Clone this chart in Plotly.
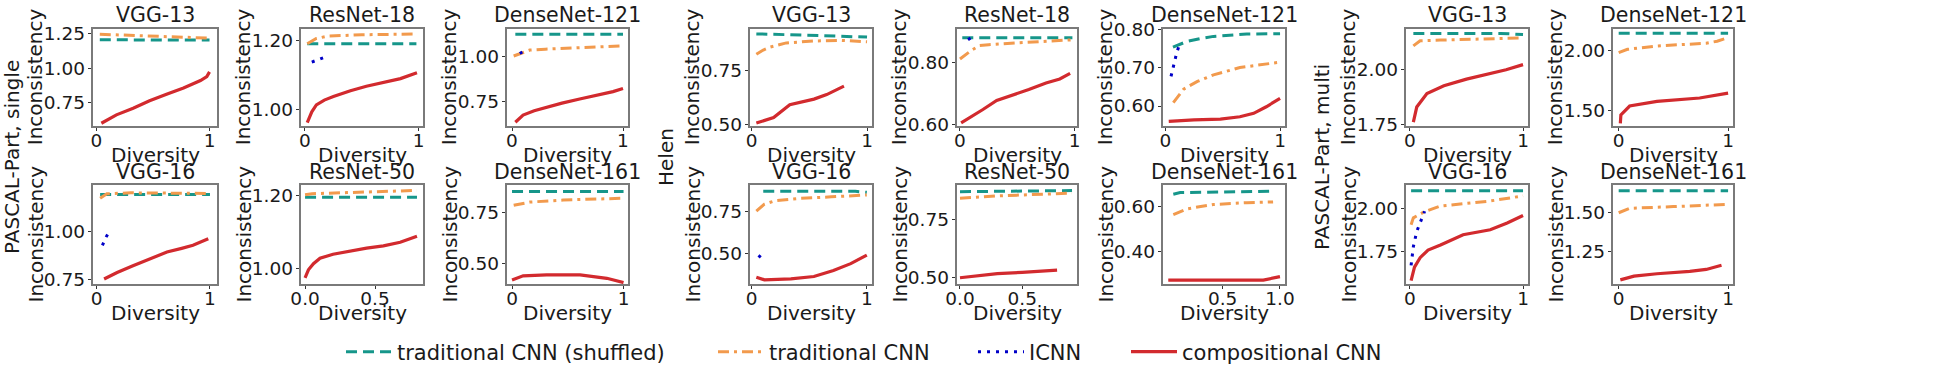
import plotly.graph_objects as go

# ---------------- data ----------------
TITLES = ["VGG-13", "ResNet-18", "DenseNet-121", "VGG-13", "ResNet-18", "DenseNet-121", "VGG-13", "DenseNet-121",
          "VGG-16", "ResNet-50", "DenseNet-161", "VGG-16", "ResNet-50", "DenseNet-161", "VGG-16", "DenseNet-161"]
GROUPS = ["PASCAL-Part, single", "Helen", "PASCAL-Part, multi"]
SERIES_NAMES = ["traditional CNN (shuffled)", "traditional CNN", "ICNN", "compositional CNN"]

# each panel: shuffled / traditional / icnn / compositional  -> (x list, y list)
p1 = dict(shuf=([0.03, 0.5, 1.0], [1.205, 1.205, 1.203]),
          trad=([0.03, 0.2, 0.5, 0.8, 1.0], [1.245, 1.24, 1.232, 1.225, 1.217]),
          comp=([0.044, 0.177, 0.325, 0.47, 0.62, 0.77, 0.92, 0.976, 1.0],
                [0.599, 0.66, 0.708, 0.762, 0.81, 0.855, 0.909, 0.938, 0.972]))
p2 = dict(shuf=([0.02, 0.98], [1.19, 1.19]),
          trad=([0.02, 0.06, 0.1, 0.2, 0.35, 0.5, 0.75, 0.98], [1.19, 1.198, 1.205, 1.212, 1.214, 1.216, 1.217, 1.218]),
          icnn=([0.06, 0.13, 0.2], [1.137, 1.145, 1.154]),
          comp=([0.02, 0.04, 0.06, 0.1, 0.17, 0.25, 0.4, 0.54, 0.69, 0.84, 0.985],
                [0.962, 0.98, 0.993, 1.013, 1.027, 1.037, 1.054, 1.067, 1.077, 1.089, 1.106]))
p3 = dict(shuf=([0.03, 1.0], [1.125, 1.125]),
          trad=([0.015, 0.08, 0.16, 0.3, 0.46, 0.7, 1.0], [1.004, 1.02, 1.037, 1.042, 1.046, 1.053, 1.061]),
          icnn=([0.07, 0.13], [1.018, 1.04]),
          comp=([0.03, 0.1, 0.2, 0.31, 0.45, 0.61, 0.75, 0.91, 1.0],
                [0.636, 0.676, 0.70, 0.719, 0.742, 0.765, 0.785, 0.806, 0.824]))
p4 = dict(shuf=([0.04, 0.3, 0.6, 1.0], [0.92, 0.917, 0.912, 0.905]),
          trad=([0.04, 0.1, 0.16, 0.3, 0.54, 0.77, 1.0], [0.825, 0.845, 0.859, 0.878, 0.887, 0.89, 0.883]),
          comp=([0.04, 0.19, 0.33, 0.54, 0.65, 0.8], [0.506, 0.531, 0.591, 0.617, 0.638, 0.677]))
p5 = dict(shuf=([0.02, 0.98], [0.878, 0.878]),
          trad=([0.0, 0.05, 0.1, 0.17, 0.25, 0.5, 0.75, 1.0], [0.81, 0.825, 0.838, 0.853, 0.856, 0.862, 0.867, 0.872]),
          icnn=([0.07, 0.13], [0.872, 0.886]),
          comp=([0.01, 0.1, 0.2, 0.32, 0.45, 0.6, 0.75, 0.87, 0.96],
                [0.605, 0.625, 0.648, 0.677, 0.692, 0.712, 0.733, 0.746, 0.764]))
p6 = dict(shuf=([0.067, 0.19, 0.3, 0.42, 0.71, 1.0], [0.753, 0.768, 0.775, 0.781, 0.787, 0.788]),
          trad=([0.07, 0.16, 0.28, 0.42, 0.65, 0.94, 1.0], [0.609, 0.644, 0.664, 0.681, 0.70, 0.713, 0.714]),
          icnn=([0.05, 0.067, 0.1, 0.13], [0.677, 0.70, 0.739, 0.765]),
          comp=([0.03, 0.25, 0.48, 0.65, 0.77, 0.88, 1.0], [0.56, 0.564, 0.566, 0.572, 0.581, 0.598, 0.62]))
p7 = dict(shuf=([0.03, 0.8, 1.0], [2.16, 2.16, 2.155]),
          trad=([0.03, 0.09, 0.27, 0.6, 1.0], [2.104, 2.127, 2.13, 2.135, 2.14]),
          comp=([0.03, 0.06, 0.15, 0.3, 0.5, 0.7, 0.85, 1.0], [1.762, 1.83, 1.89, 1.925, 1.955, 1.98, 1.997, 2.02]))
p8 = dict(shuf=([0.0, 1.0], [2.14, 2.14]),
          trad=([0.0, 0.08, 0.35, 0.8, 0.9, 1.0], [1.98, 2.008, 2.036, 2.058, 2.075, 2.106]),
          comp=([0.015, 0.02, 0.1, 0.35, 0.74, 1.0], [1.397, 1.467, 1.54, 1.578, 1.606, 1.647]))
p9 = dict(shuf=([0.03, 1.0], [1.192, 1.192]),
          trad=([0.03, 0.09, 0.3, 0.6, 1.0], [1.172, 1.195, 1.2, 1.2, 1.197]),
          icnn=([0.05, 0.08, 0.12], [0.926, 0.966, 1.009]),
          comp=([0.065, 0.18, 0.32, 0.47, 0.62, 0.75, 0.85, 0.985],
                [0.75, 0.784, 0.819, 0.857, 0.891, 0.91, 0.926, 0.96]))
p10 = dict(shuf=([0.0, 0.8], [1.195, 1.195]),
           trad=([0.0, 0.05, 0.3, 0.6, 0.8], [1.202, 1.205, 1.208, 1.211, 1.214]),
           comp=([0.0, 0.024, 0.06, 0.107, 0.2, 0.32, 0.44, 0.56, 0.68, 0.8],
                 [0.973, 0.995, 1.012, 1.027, 1.038, 1.047, 1.055, 1.061, 1.071, 1.088]))
p11 = dict(shuf=([0.0, 1.0], [0.855, 0.855]),
           trad=([0.015, 0.16, 0.46, 1.0], [0.787, 0.803, 0.813, 0.822]),
           comp=([0.0, 0.1, 0.31, 0.61, 0.85, 1.0], [0.42, 0.44, 0.445, 0.445, 0.428, 0.407]))
p12 = dict(shuf=([0.1, 0.9, 1.0], [0.872, 0.872, 0.866]),
           trad=([0.04, 0.11, 0.2, 0.4, 0.69, 1.0], [0.754, 0.795, 0.815, 0.829, 0.839, 0.85]),
           icnn=([0.06, 0.11], [0.476, 0.516]),
           comp=([0.04, 0.11, 0.34, 0.54, 0.71, 0.86, 1.0], [0.358, 0.342, 0.348, 0.362, 0.398, 0.439, 0.49]))
p13 = dict(shuf=([0.0, 0.9], [0.868, 0.873]),
           trad=([0.0, 0.3, 0.9], [0.84, 0.85, 0.862]),
           comp=([0.0, 0.1, 0.2, 0.3, 0.5, 0.78], [0.497, 0.503, 0.51, 0.515, 0.52, 0.53]))
p14 = dict(shuf=([0.07, 0.13, 0.94], [0.652, 0.659, 0.665]),
           trad=([0.07, 0.19, 0.42, 0.71, 0.94], [0.563, 0.588, 0.607, 0.615, 0.618]),
           comp=([0.026, 0.855, 1.0], [0.277, 0.277, 0.292]))
p15 = dict(shuf=([0.01, 1.0], [2.104, 2.104]),
           trad=([0.01, 0.03, 0.12, 0.27, 0.71, 1.0], [1.907, 1.947, 1.98, 2.016, 2.045, 2.075]),
           icnn=([0.01, 0.03, 0.06, 0.1, 0.13], [1.671, 1.78, 1.868, 1.937, 1.986]),
           comp=([0.01, 0.04, 0.09, 0.16, 0.27, 0.47, 0.71, 0.86, 1.0],
                 [1.582, 1.661, 1.716, 1.76, 1.79, 1.849, 1.878, 1.917, 1.961]))
p16 = dict(shuf=([0.0, 1.0], [1.644, 1.644]),
           trad=([0.0, 0.1, 0.5, 1.0], [1.50, 1.529, 1.54, 1.555]),
           comp=([0.015, 0.14, 0.35, 0.65, 0.8, 0.94], [1.062, 1.086, 1.102, 1.117, 1.13, 1.157]))
PANELS = [p1, p2, p3, p4, p5, p6, p7, p8, p9, p10, p11, p12, p13, p14, p15, p16]

# tick values per panel
Y_TICKS = [[0.75, 1.0, 1.25], [1.0, 1.2], [0.75, 1.0], [0.5, 0.75], [0.6, 0.8], [0.6, 0.7, 0.8], [1.75, 2.0], [1.5, 2.0],
           [0.75, 1.0], [1.0, 1.2], [0.5, 0.75], [0.5, 0.75], [0.5, 0.75], [0.4, 0.6], [1.75, 2.0], [1.25, 1.5]]
X_TICKS = [[0, 1]] * 9 + [[0, 0.5]] + [[0, 1]] * 2 + [[0, 0.5], [0.5, 1.0], [0, 1], [0, 1]]
X_TICKTEXT = [["0", "1"]] * 9 + [["0.0", "0.5"]] + [["0", "1"]] * 2 + [["0.0", "0.5"], ["0.5", "1.0"], ["0", "1"], ["0", "1"]]

# axis ranges (visible window) per panel
X_RANGES = [[-0.03, 1.066], [-0.035, 1.038], [-0.045, 1.045], [-0.015, 1.043], [-0.026, 1.02], [-0.02, 1.043],
            [-0.035, 1.044], [-0.052, 1.045],
            [-0.033, 1.062], [-0.029, 0.843], [-0.045, 1.04], [-0.015, 1.045], [-0.024, 0.94], [-0.02, 1.044],
            [-0.035, 1.044], [-0.052, 1.045]]
Y_RANGES = [[0.579, 1.287], [0.952, 1.234], [0.615, 1.157], [0.492, 0.945], [0.595, 0.908], [0.548, 0.8015],
            [1.745, 2.182], [1.375, 2.18],
            [0.724, 1.241], [0.956, 1.229], [0.40, 0.887], [0.317, 0.91], [0.47, 0.897], [0.26, 0.692],
            [1.563, 2.138], [1.035, 1.681]]

# ---------------- layout geometry ----------------
W, H = 1936, 368
COL_PX = [(93, 217), (301, 423), (507, 628), (750, 872), (957, 1077), (1163, 1285), (1406, 1528), (1613, 1733)]
ROW_PX = [(28.5, 126), (185, 284)]
GROUP_X = [12, 666, 1322]
FONT = "DejaVu Sans"
TXT = "#1a1a1a"

STYLE = {
    "shuf": dict(color="#16968a", width=3, dash="11px,6px"),
    "trad": dict(color="#f29a4d", width=3, dash="11px,5px,3px,5px"),
    "icnn": dict(color="#0000c8", width=3, dash="3px,6px"),
    "comp": dict(color="#d22a2e", width=3.2, dash="solid"),
}
KEYS = ["shuf", "trad", "icnn", "comp"]
LEGEND_IDS = ["legend", "legend2", "legend3", "legend4"]

fig = go.Figure()
legend_done = set()
annotations = []
layout_axes = {}

for i, panel in enumerate(PANELS):
    r, c = divmod(i, 8)
    n = i + 1
    xa = "x" if n == 1 else f"x{n}"
    ya = "y" if n == 1 else f"y{n}"
    x0, x1 = COL_PX[c]
    top, bot = ROW_PX[r]
    xdom = [x0 / W, x1 / W]
    ydom = [1 - bot / H, 1 - top / H]
    axcommon = dict(showline=True, mirror=True, linecolor="#7a7a7a", linewidth=1.6,
                    ticks="outside", ticklen=3.5, tickwidth=1.2, tickcolor="#333333",
                    showgrid=False, zeroline=False,
                    tickfont=dict(size=18.5, color=TXT, family=FONT))
    layout_axes["xaxis" if n == 1 else f"xaxis{n}"] = dict(
        domain=xdom, anchor=ya, range=X_RANGES[i], tickvals=X_TICKS[i], ticktext=X_TICKTEXT[i],
        ticklabelstandoff=-7, **axcommon)
    layout_axes["yaxis" if n == 1 else f"yaxis{n}"] = dict(
        domain=ydom, anchor=xa, range=Y_RANGES[i], tickvals=Y_TICKS[i],
        ticktext=[f"{v:.2f}" for v in Y_TICKS[i]], ticklabelstandoff=-1, **axcommon)

    for k, key in enumerate(KEYS):
        if key not in panel:
            continue
        xs, ys = panel[key]
        show = key not in legend_done
        legend_done.add(key)
        fig.add_trace(go.Scatter(
            x=xs, y=ys, mode="lines", line=STYLE[key], name=SERIES_NAMES[k],
            xaxis=xa, yaxis=ya, showlegend=show, legend=LEGEND_IDS[k], hoverinfo="skip"))

    cx = (x0 + x1) / 2 / W
    annotations.append(dict(text=TITLES[i], x=cx, y=1 - (top + 1) / H, xref="paper", yref="paper",
                            xanchor="center", yanchor="bottom", showarrow=False,
                            font=dict(size=20.5, color=TXT, family=FONT)))
    annotations.append(dict(text="Diversity", x=cx, y=1 - (bot + 29) / H, xref="paper", yref="paper",
                            xanchor="center", yanchor="middle", showarrow=False,
                            font=dict(size=20, color=TXT, family=FONT)))
    annotations.append(dict(text="Inconsistency", x=(x0 - 58) / W, y=1 - (top + bot) / 2 / H,
                            xref="paper", yref="paper", xanchor="center", yanchor="middle",
                            textangle=-90, showarrow=False, font=dict(size=20, color=TXT, family=FONT)))

for g, gx in zip(GROUPS, GROUP_X):
    annotations.append(dict(text=g, x=gx / W, y=1 - 157 / H, xref="paper", yref="paper",
                            xanchor="center", yanchor="middle", textangle=-90, showarrow=False,
                            font=dict(size=20, color=TXT, family=FONT)))

# legend symbol start positions (px); legend box starts 14px before symbol
LEGEND_SYM_X = [355, 727, 987, 1140]
legends = {}
for lid, sx in zip(LEGEND_IDS, LEGEND_SYM_X):
    legends[lid] = dict(x=(sx - 14) / W, y=1 - 352 / H, xanchor="left", yanchor="middle",
                        bgcolor="rgba(0,0,0,0)", itemwidth=46,
                        font=dict(size=21, color=TXT, family=FONT))

fig.update_layout(
    width=W, height=H, margin=dict(l=0, r=0, t=0, b=0, autoexpand=False),
    paper_bgcolor="white", plot_bgcolor="white",
    font=dict(family=FONT, size=18, color=TXT),
    annotations=annotations, **layout_axes, **legends)

fig.write_html("out.html", config={"displayModeBar": False},
               post_script="document.body.style.margin='0';document.body.style.padding='0';"
                           "document.body.style.overflow='hidden';")
